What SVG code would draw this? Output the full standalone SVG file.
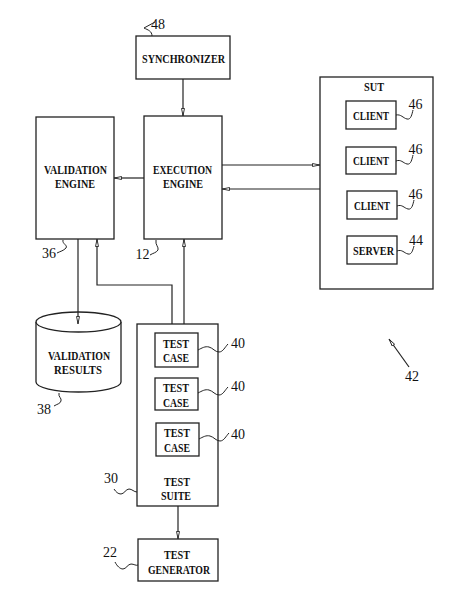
<svg xmlns="http://www.w3.org/2000/svg" width="474" height="603" viewBox="0 0 474 603">
<defs>
<style>
.box{fill:#fff;stroke:#222;stroke-width:1.3}
.ln{fill:none;stroke:#222;stroke-width:1.2}
.ld{fill:none;stroke:#222;stroke-width:1}
.t{font-family:"Liberation Serif","Times New Roman",serif;font-size:13px;font-weight:bold;fill:#111;text-anchor:middle}
.n{font-family:"Liberation Serif","Times New Roman",serif;font-size:14px;fill:#111;text-anchor:middle}
</style>
<marker id="ah" viewBox="0 0 8 4" refX="8" refY="2" markerWidth="8" markerHeight="4" markerUnits="userSpaceOnUse" orient="auto">
<path d="M0.5,0.5 L7.5,2 L0.5,3.5 Z" fill="#fff" stroke="#222" stroke-width="0.9"/>
</marker>
</defs>
<rect width="474" height="603" fill="#fff"/>

<g id="synchronizer">
<rect class="box" x="136" y="36" width="94" height="43"/>
<text class="t" x="183.5" y="62.5" textLength="83" lengthAdjust="spacingAndGlyphs">SYNCHRONIZER</text>
<path class="ld" d="M152,36 C152,31 148,30 144,28 L155,22"/>
<text class="n" x="158" y="29">48</text>
</g>

<g id="validation-engine">
<rect class="box" x="36" y="117" width="78" height="122"/>
<text class="t" x="75.5" y="174" textLength="63" lengthAdjust="spacingAndGlyphs">VALIDATION</text>
<text class="t" x="75" y="188" textLength="40" lengthAdjust="spacingAndGlyphs">ENGINE</text>
<path class="ld" d="M57,253 C61,251 63,251 66,248 C68,245 62,244 63,240"/>
<text class="n" x="49" y="258">36</text>
</g>

<g id="execution-engine">
<rect class="box" x="144" y="116" width="78" height="123"/>
<text class="t" x="182.5" y="174" textLength="59" lengthAdjust="spacingAndGlyphs">EXECUTION</text>
<text class="t" x="183" y="188" textLength="40" lengthAdjust="spacingAndGlyphs">ENGINE</text>
<path class="ld" d="M150,255 C153,253 156,253 158,250 C159,247 155,245 156,240"/>
<text class="n" x="142.5" y="259">12</text>
</g>

<g id="sut">
<rect class="box" x="320" y="77" width="113" height="212"/>
<text class="t" x="374" y="91" textLength="20" lengthAdjust="spacingAndGlyphs">SUT</text>
</g>

<g id="client1">
<rect class="box" x="346" y="101" width="50" height="28"/>
<text class="t" x="371" y="120" textLength="36" lengthAdjust="spacingAndGlyphs">CLIENT</text>
<path class="ld" d="M396,115 C401,114 403,118 407,119 C411,120 412,114 413,110"/>
<text class="n" x="415.5" y="109">46</text>
</g>

<g id="client2">
<rect class="box" x="346" y="147" width="50" height="27"/>
<text class="t" x="371" y="165" textLength="36" lengthAdjust="spacingAndGlyphs">CLIENT</text>
<path class="ld" d="M396,161 C401,159 403,163 407,164 C411,165 412,159 413,155"/>
<text class="n" x="415.5" y="154">46</text>
</g>

<g id="client3">
<rect class="box" x="347" y="191" width="50" height="28"/>
<text class="t" x="372" y="210" textLength="36" lengthAdjust="spacingAndGlyphs">CLIENT</text>
<path class="ld" d="M397,206 C402,204 404,208 408,209 C412,210 413,204 414,200"/>
<text class="n" x="415.5" y="199">46</text>
</g>

<g id="server">
<rect class="box" x="347" y="236" width="50" height="28"/>
<text class="t" x="373.5" y="255" textLength="41" lengthAdjust="spacingAndGlyphs">SERVER</text>
<path class="ld" d="M397,251 C402,249 404,253 408,254 C412,255 413,249 414,246"/>
<text class="n" x="416" y="245">44</text>
</g>

<g id="validation-results">
<path class="box" d="M36,322 L36,382 A42.5,10 0 0 0 121,382 L121,322"/>
<ellipse class="box" cx="78.5" cy="322" rx="42.5" ry="10"/>
<text class="t" x="79" y="360" textLength="62" lengthAdjust="spacingAndGlyphs">VALIDATION</text>
<text class="t" x="78" y="374" textLength="48" lengthAdjust="spacingAndGlyphs">RESULTS</text>
<path class="ld" d="M54,406 C57,404 60,404 61,401 C62,398 58,397 59,393"/>
<text class="n" x="44" y="414">38</text>
</g>

<g id="test-suite">
<rect class="box" x="137" y="324" width="81" height="182"/>
<text class="t" x="177" y="486" textLength="26" lengthAdjust="spacingAndGlyphs">TEST</text>
<text class="t" x="176" y="500" textLength="30" lengthAdjust="spacingAndGlyphs">SUITE</text>
<path class="ld" d="M114,489 C116,492 118,494 121,494 C124,494 126,489 129,489 C132,489 134,492 137,492"/>
<text class="n" x="111" y="483">30</text>
</g>

<g id="test-case1">
<rect class="box" x="155" y="333" width="43" height="34"/>
<text class="t" x="176" y="348" textLength="26" lengthAdjust="spacingAndGlyphs">TEST</text>
<text class="t" x="176" y="362" textLength="26" lengthAdjust="spacingAndGlyphs">CASE</text>
<path class="ld" d="M198,350 C202,348 205,346 209,347 C213,348 215,352 219,352 C223,352 225,347 228,344"/>
<text class="n" x="238" y="348">40</text>
</g>

<g id="test-case2">
<rect class="box" x="155" y="378" width="43" height="32"/>
<text class="t" x="176" y="392" textLength="26" lengthAdjust="spacingAndGlyphs">TEST</text>
<text class="t" x="176" y="407" textLength="26" lengthAdjust="spacingAndGlyphs">CASE</text>
<path class="ld" d="M198,393 C202,391 205,389 209,390 C213,391 215,395 219,395 C223,395 225,390 228,387"/>
<text class="n" x="238" y="391">40</text>
</g>

<g id="test-case3">
<rect class="box" x="156" y="423" width="43" height="33"/>
<text class="t" x="177" y="437" textLength="26" lengthAdjust="spacingAndGlyphs">TEST</text>
<text class="t" x="177" y="452" textLength="26" lengthAdjust="spacingAndGlyphs">CASE</text>
<path class="ld" d="M199,439 C203,437 206,435 210,436 C214,437 216,441 220,441 C224,441 226,436 229,433"/>
<text class="n" x="238" y="439">40</text>
</g>

<g id="test-generator">
<rect class="box" x="138" y="539" width="80" height="42"/>
<text class="t" x="177" y="559" textLength="26" lengthAdjust="spacingAndGlyphs">TEST</text>
<text class="t" x="179" y="574" textLength="62" lengthAdjust="spacingAndGlyphs">GENERATOR</text>
<path class="ld" d="M115,562 C117,566 120,569 123,569 C126,569 128,564 131,564 C134,564 136,566 138,565"/>
<text class="n" x="110" y="557">22</text>
</g>

<g id="label-42">
<text class="n" x="412" y="381">42</text>
</g>

<g id="connectors">
<line class="ln" x1="183" y1="79" x2="183" y2="116" marker-end="url(#ah)"/>
<line class="ln" x1="144" y1="178" x2="114" y2="178" marker-end="url(#ah)"/>
<line class="ln" x1="222" y1="165" x2="320" y2="165" marker-end="url(#ah)"/>
<line class="ln" x1="320" y1="189" x2="222" y2="189" marker-end="url(#ah)"/>
<line class="ln" x1="78" y1="239" x2="78" y2="324" marker-end="url(#ah)"/>
<polyline class="ln" points="172,324 172,285 97,285 97,239" marker-end="url(#ah)"/>
<line class="ln" x1="184" y1="324" x2="184" y2="239" marker-end="url(#ah)"/>
<line class="ln" x1="178" y1="506" x2="178" y2="539" marker-end="url(#ah)"/>
<line class="ln" x1="409" y1="367" x2="389" y2="339" marker-end="url(#ah)"/>
</g>
</svg>
